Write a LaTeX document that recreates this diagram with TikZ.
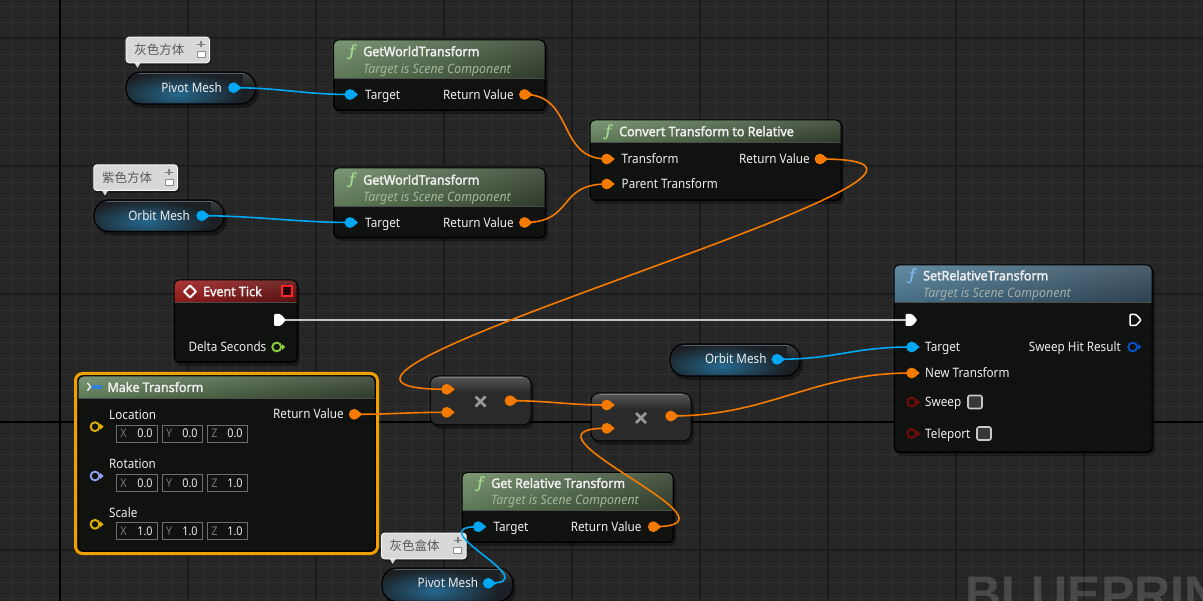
\documentclass[tikz,border=0pt]{standalone}
\usepackage{fontspec}
\setmainfont{Noto Sans}[FakeStretch=0.9]
\newfontfamily\ttlfont{Noto Sans}[FakeStretch=0.96, FakeBold=2.2]
\newfontfamily\subfont{Noto Sans}[FakeStretch=0.95]
\newfontfamily\cjk{Noto Sans CJK SC}
\newfontfamily\wmfont{Liberation Sans}
\usetikzlibrary{calc}
\definecolor{bg}{HTML}{262626}
\definecolor{gridminor}{HTML}{313131}
\definecolor{gridmajor}{HTML}{1B1B1B}
\definecolor{pinorange}{HTML}{F57A00}
\definecolor{pinblue}{HTML}{00A8F4}
\definecolor{execgray}{HTML}{C4C4C4}
\definecolor{bodyfill}{HTML}{101210}
\definecolor{greenL}{HTML}{6A8A62}
\definecolor{greenR}{HTML}{34422F}
\definecolor{blueL}{HTML}{4F7D97}
\definecolor{blueR}{HTML}{33495A}
\definecolor{redL}{HTML}{A01C1C}
\definecolor{redR}{HTML}{5E1212}
\definecolor{subgreen}{HTML}{A6B596}
\definecolor{subblue}{HTML}{9FAEA8}
\definecolor{fgreen}{HTML}{A2D890}
\definecolor{fblue}{HTML}{7CB8E8}
\definecolor{txt}{HTML}{EEEEEE}
\definecolor{selorange}{HTML}{F0A000}
\definecolor{commentfill}{HTML}{D8D8D8}
\definecolor{commenttxt}{HTML}{595959}
\definecolor{pillbase}{HTML}{1C2024}
\definecolor{pilltop}{HTML}{3C4247}
\definecolor{pillglow}{HTML}{25688E}
\definecolor{multfill}{HTML}{2A2A2A}
\definecolor{multx}{HTML}{9A9A9A}
\definecolor{yellowpin}{HTML}{E0B000}
\definecolor{violetpin}{HTML}{8FA0F0}
\definecolor{greenpin}{HTML}{8CD040}
\definecolor{darkredpin}{HTML}{7A0A0A}
\definecolor{darkbluepin}{HTML}{0A50C8}
\definecolor{fieldborder}{HTML}{6E6E6E}
\definecolor{fieldlbl}{HTML}{767676}
\definecolor{checkborder}{HTML}{C8C8C8}
\definecolor{makeblue}{HTML}{2F7FD8}
\tikzset{
  nodebody/.style={fill=bodyfill, fill opacity=0.9, draw=black, line width=1, rounded corners=5, inner sep=0, anchor=north west},
  pillnode/.style={fill=pillbase, inner sep=0, anchor=north west, rounded corners=15},
  multnode/.style={fill=multfill, inner sep=0, anchor=north west, rounded corners=8},
  cmtbox/.style={fill=commentfill, draw=white!92!gray, line width=1, rounded corners=3, inner sep=0, anchor=north west},
  cmttxt/.style={text=commenttxt, inner sep=0, anchor=west, font=\cjk\fontsize{12.5}{13}\selectfont},
  lbl/.style={text=txt, inner sep=0, anchor=west, font=\fontsize{13}{13}\selectfont, text height=9.3pt, text depth=0pt},
  lble/.style={lbl, anchor=east},
  ttl/.style={lbl, font=\ttlfont\fontsize{13}{13}\selectfont},
  subg/.style={lbl, text=subgreen, font=\subfont\itshape\fontsize{13}{13}\selectfont},
  subb/.style={lbl, text=subblue, font=\subfont\itshape\fontsize{13}{13}\selectfont},
  ficon/.style={inner sep=0, font=\fontsize{19}{19}\selectfont\boldmath},
  fieldl/.style={lbl, text=fieldlbl, font=\fontsize{12}{12}\selectfont, text height=8.6pt},
  fieldv/.style={lbl, anchor=east, font=\fontsize{12}{12}\selectfont, text height=8.6pt},
  wireO/.style={draw=pinorange, line width=1.6},
  wireB/.style={draw=pinblue, line width=1.6},
  wireE/.style={draw=execgray, line width=2},
  checkbox/.style={draw=checkborder, fill=black!78, line width=1.6, rounded corners=2},
}
% function node: name, x1, y1, x2, y2, header bottom, left colour, right colour
\newcommand\fnode[8]{%
  \fill[black, opacity=0.35, rounded corners=6] (#2+2,#3+3) rectangle (#4+3,#5+4);
  \node[nodebody, minimum width={(#4-#2)*1pt}, minimum height={(#5-#3)*1pt}] (#1) at (#2,#3) {};
  \begin{scope}
    \clip[rounded corners=5] (#2,#3) rectangle (#4,#5);
    \shade[left color=#7, right color=#8] (#2,#3) rectangle (#4,#6);
    \shade[top color=white, bottom color=black, opacity=0.12] (#2,#3) rectangle (#4,#6);
    \draw[black!70, line width=1] (#2,#6) -- (#4,#6);
  \end{scope}
  \draw[black, line width=1, rounded corners=5] (#2,#3) rectangle (#4,#5);
}
% variable pill: name, x1, y1, x2, y2
\newcommand\pill[5]{%
  \fill[black, opacity=0.4, rounded corners=15] (#2+2,#3+3) rectangle (#4+3,#5+4);
  \node[pillnode, minimum width={(#4-#2)*1pt}, minimum height={(#5-#3)*1pt}] (#1) at (#2,#3) {};
  \begin{scope}
    \clip[rounded corners=15] (#2,#3) rectangle (#4,#5);
    \shade[top color=pilltop, bottom color=pillbase] (#2,#3) rectangle (#4,{(#3+#5)/2});
    \shade[inner color=pillglow, outer color=pillbase] ({#2-(#4-#2)*0.1},{(#3+#5)/2-16}) rectangle ({#4-(#4-#2)*0.1},{#5+12});
  \end{scope}
  \draw[black, line width=1.2, rounded corners=15] (#2,#3) rectangle (#4,#5);
  \draw[white, opacity=0.28, line width=0.8] (#2+12,#3+1.5) -- (#4-12,#3+1.5);
}
% multiply node: name, x1, y1, x2, y2
\newcommand\mult[5]{%
  \fill[black, opacity=0.4, rounded corners=9] (#2+2,#3+3) rectangle (#4+3,#5+4);
  \node[multnode, minimum width={(#4-#2)*1pt}, minimum height={(#5-#3)*1pt}] (#1) at (#2,#3) {};
  \begin{scope}
    \clip[rounded corners=8] (#2,#3) rectangle (#4,#5);
    \shade[top color=white!22!multfill, bottom color=multfill] (#2,#3) rectangle (#4,#3+16);
  \end{scope}
  \draw[black, line width=1, rounded corners=8] (#2,#3) rectangle (#4,#5);
  \draw[white, opacity=0.25, line width=0.8] (#2+9,#3+1.2) -- (#4-9,#3+1.2);
  \begin{scope}[shift={({(#2+#4)/2},{(#3+#5)/2+1})}]
    \draw[multx, line width=2.8] (-5,-5) -- (5,5) (-5,5) -- (5,-5);
  \end{scope}
}
% comment bubble: name, x1, y1, x2, y2, tail x, text
\newcommand\cmt[7]{%
  \fill[black, opacity=0.3, rounded corners=3] (#2+1,#3+2) rectangle (#4+2,#5+3);
  \fill[commentfill] (#6-4,#5-1) -- (#6+4,#5-1) -- (#6,#5+5.5) -- cycle;
  \node[cmtbox, minimum width={(#4-#2)*1pt}, minimum height={(#5-#3)*1pt}] (#1) at (#2,#3) {};
  \node[cmttxt] (#1t) at (#2+8.5,{(#3+#5)/2}) {#7};
  \draw[black!50, line width=0.8] (#4-12,#3+7.5) -- (#4-4,#3+7.5);
  \draw[black!50, line width=1.8] (#4-8,#3+4.5) -- (#4-8,#3+10.5);
  \draw[black!45, fill=white, line width=0.6] (#4-12,#3+15) rectangle (#4-4,#3+21);
}
% field box: name, x1, x2, y, axis, value
\newcommand\field[6]{%
  \draw[fieldborder, line width=1] (#2,#4-8.5) rectangle (#3,#4+8.5);
  \node[fieldl] (#1l) at (#2+3.5,#4) {#5};
  \node[fieldv] (#1v) at (#3-4.5,#4) {#6};
}
\newcommand\dpin[2]{\begin{scope}[shift={(#1)}]\fill[#2] (0,0) circle[radius=5.4];\fill[#2] (4.2,-3.2) -- (8,0) -- (4.2,3.2) -- cycle;\end{scope}}
\newcommand\hpin[2]{\begin{scope}[shift={(#1)}]\draw[#2, line width=1.9] (0,0) circle[radius=4.4];\fill[#2] (5.2,-3) -- (8.6,0) -- (5.2,3) -- cycle;\end{scope}}
\newcommand\xpin[1]{\begin{scope}[shift={(#1)}]\fill[white, rounded corners=1.2] (-5.5,-6) -- (1,-6) -- (6.5,0) -- (1,6) -- (-5.5,6) -- cycle;\end{scope}}
\newcommand\hxpin[1]{\begin{scope}[shift={(#1)}]\draw[white, line width=1.5, rounded corners=1] (-5,-5.5) -- (1,-5.5) -- (6,0) -- (1,5.5) -- (-5,5.5) -- cycle;\end{scope}}
\begin{document}
\begin{tikzpicture}[x=1pt,y=-1pt]
\useasboundingbox (0,0) rectangle (1203,601);
\clip (0,0) rectangle (1203,601);
\fill[bg] (0,0) rectangle (1203,601);
% grid
\foreach \x in {12,28,...,1200} \draw[gridminor, line width=0.9] (\x,0) -- (\x,601);
\foreach \y in {6,22,...,600} \draw[gridminor, line width=0.9] (0,\y) -- (1203,\y);
\foreach \x in {188,316,...,1200} \draw[gridmajor, line width=1.1] (\x,0) -- (\x,601);
\foreach \y in {38,166,294,550} \draw[gridmajor, line width=1.1] (0,\y) -- (1203,\y);
\draw[black, line width=1.6] (60,0) -- (60,601);
\draw[black, line width=1.6] (0,422) -- (1203,422);
% watermark
\node[anchor=base west, inner sep=0, text=white, text opacity=0.16, font=\wmfont\bfseries\fontsize{50}{50}\selectfont] (wm) at (965,611) {BLUEPRINT};

% ---------- nodes ----------
\cmt{c1}{125.7}{36.7}{209}{62.3}{137.5}{灰色方体}
\pill{pv1}{126}{72}{255.5}{104}
\node[lble] (pv1t) at (222,87.7) {Pivot Mesh};

\cmt{c2}{93.3}{164.5}{177}{190}{105}{紫色方体}
\pill{ob1}{94}{200}{224}{231.5}
\node[lble] (ob1t) at (190,215.7) {Orbit Mesh};

\fnode{gwt1}{333.5}{40}{545}{110}{79}{greenL}{greenR}
\node[ficon, text=fgreen] (gwt1f) at (352,52) {$f$};
\node[ttl] (gwt1n) at (363,51.5) {GetWorldTransform};
\node[subg] (gwt1s) at (363,69) {Target is Scene Component};
\node[lbl] (gwt1a) at (365,94.5) {Target};
\node[lble] (gwt1b) at (514,94.5) {Return Value};

\fnode{gwt2}{333.5}{168}{545}{237.5}{207}{greenL}{greenR}
\node[ficon, text=fgreen] (gwt2f) at (352,180.5) {$f$};
\node[ttl] (gwt2n) at (363,180) {GetWorldTransform};
\node[subg] (gwt2s) at (363,197) {Target is Scene Component};
\node[lbl] (gwt2a) at (365,222.5) {Target};
\node[lble] (gwt2b) at (514,222.5) {Return Value};

\fnode{cvn}{590}{120}{841}{200}{142.5}{greenL}{greenR}
\node[ficon, text=fgreen] (cvf) at (608,132) {$f$};
\node[ttl] (cvnn) at (619,131.5) {Convert Transform to Relative};
\node[lbl] (cva) at (621.5,159) {Transform};
\node[lble] (cvb) at (810,159) {Return Value};
\node[lbl] (cvc) at (621.5,184) {Parent Transform};

\fnode{evt}{174}{280}{297}{362}{303}{redL}{redR}
\draw[white, line width=2, line join=round] (190,285.5) -- (196,291.5) -- (190,297.5) -- (184,291.5) -- cycle;
\node[ttl] (evtn) at (203,291.5) {Event Tick};
\draw[red!85!white, line width=1.5, fill=black!85!red] (282,286) rectangle (292,296);
\node[lble] (evtd) at (266.5,347) {Delta Seconds};

\fnode{srt}{894}{265}{1152}{452}{303}{blueL}{blueR}
\node[ficon, text=fblue] (srtf) at (912,276.5) {$f$};
\node[ttl] (srtn) at (923,275.7) {SetRelativeTransform};
\node[subb] (srts) at (923,292.7) {Target is Scene Component};
\node[lbl] (srta) at (925,347) {Target};
\node[lble] (srtb) at (1121,347) {Sweep Hit Result};
\node[lbl] (srtc) at (925,373) {New Transform};
\node[lbl] (srtd) at (925,402) {Sweep};
\node[lbl] (srte) at (925,433.5) {Teleport};
\draw[checkbox] (968,395.5) rectangle (982,408.5);
\draw[checkbox] (977,427) rectangle (991,440);

\pill{ob2}{670}{344}{800}{376}
\node[lble] (ob2t) at (766.7,359.3) {Orbit Mesh};

\fnode{mkt}{78}{376}{375}{551}{398.5}{greenL}{greenR}
\draw[selorange, line width=3, rounded corners=7] (75.5,373.5) rectangle (377.5,553.5);
\draw[white, line width=1.2] (87.5,383) -- (90.5,386.8) -- (87.5,390.6);
\fill[makeblue] (92,385) rectangle (102,389);
\node[ttl] (mktn) at (107.3,387.3) {Make Transform};
\node[lbl] (mkta) at (109,415) {Location};
\node[lble] (mktb) at (344,414.3) {Return Value};
\node[lbl] (mktc) at (109,463.7) {Rotation};
\node[lbl] (mktd) at (109,512.7) {Scale};
\field{fa1}{116.7}{157.3}{433.7}{X}{0.0}
\field{fa2}{162.3}{202.3}{433.7}{Y}{0.0}
\field{fa3}{207.7}{247.3}{433.7}{Z}{0.0}
\field{fb1}{116.7}{157.3}{483}{X}{0.0}
\field{fb2}{162.3}{202.3}{483}{Y}{0.0}
\field{fb3}{207.7}{247.3}{483}{Z}{1.0}
\field{fc1}{116.7}{157.3}{531.3}{X}{1.0}
\field{fc2}{162.3}{202.3}{531.3}{Y}{1.0}
\field{fc3}{207.7}{247.3}{531.3}{Z}{1.0}

\mult{m1}{430}{376}{531}{425}
\mult{m2}{591}{393}{691}{441}

\fnode{grt}{462}{472.5}{673}{542}{511}{greenL}{greenR}
\node[ficon, text=fgreen] (grtf) at (480,484) {$f$};
\node[ttl] (grtn) at (491,483.3) {Get Relative Transform};
\node[subg] (grts) at (491,500) {Target is Scene Component};
\node[lbl] (grta) at (493.3,526.7) {Target};
\node[lble] (grtb) at (641.7,526.7) {Return Value};

\cmt{c3}{381}{532.7}{465.7}{558.3}{392.7}{灰色盒体}
\pill{pv3}{382}{568}{512.7}{601.5}
\node[lble] (pv3t) at (478.3,583.3) {Pivot Mesh};

% ---------- pin positions ----------
\coordinate (ppv1) at (233.5,87.7);
\coordinate (pob1) at (201.7,215.7);
\coordinate (pgwt1t) at (350,94.5);
\coordinate (pgwt1r) at (524.5,94.5);
\coordinate (pgwt2t) at (350,222.5);
\coordinate (pgwt2r) at (524.5,222.5);
\coordinate (pcvt) at (606.7,159);
\coordinate (pcvp) at (606.7,184);
\coordinate (pcvr) at (820,159);
\coordinate (pevx) at (279.5,320);
\coordinate (pevd) at (276.7,347);
\coordinate (psrxi) at (911,320);
\coordinate (psrxo) at (1135,320);
\coordinate (psrt) at (911.7,347);
\coordinate (psrh) at (1132.7,347);
\coordinate (psrn) at (911.7,373);
\coordinate (psrs) at (911.7,402);
\coordinate (psrp) at (911.7,433.5);
\coordinate (pob2) at (777,359.3);
\coordinate (pmkl) at (95,426.7);
\coordinate (pmkr) at (95,476);
\coordinate (pmks) at (95,524.3);
\coordinate (pmko) at (354.3,414.3);
\coordinate (pm1a) at (446.7,389.3);
\coordinate (pm1b) at (446.7,412.3);
\coordinate (pm1o) at (510,400.7);
\coordinate (pm2a) at (606.7,405);
\coordinate (pm2b) at (606.7,428.3);
\coordinate (pm2o) at (670.7,416);
\coordinate (pgrt) at (478.3,526.7);
\coordinate (pgrr) at (653.3,526.7);
\coordinate (ppv3) at (488.3,583.3);

% ---------- wires ----------
\draw[wireE] (pevx) -- (psrxi);
\draw[wireB] (ppv1) .. controls +(45,0) and +(-45,0) .. (pgwt1t);
\draw[wireB] (pob1) .. controls +(50,0) and +(-50,0) .. (pgwt2t);
\draw[wireO] (pgwt1r) .. controls +(50,0) and +(-50,0) .. (pcvt);
\draw[wireO] (pgwt2r) .. controls +(50,0) and +(-50,0) .. (pcvp);
\draw[wireO] (pcvr) .. controls +(255,0) and +(-255,0) .. (pm1a);
\draw[wireO] (pmko) .. controls +(40,0) and +(-40,0) .. (pm1b);
\draw[wireO] (pm1o) .. controls +(40,0) and +(-40,0) .. (pm2a);
\draw[wireO] (pgrr) .. controls +(105,0) and +(-105,0) .. (pm2b);
\draw[wireO] (pm2o) .. controls +(100,0) and +(-100,0) .. (psrn);
\draw[wireB] (pob2) .. controls +(60,0) and +(-60,0) .. (psrt);
\draw[wireB] (ppv3) .. controls +(62,0) and +(-62,0) .. (pgrt);

% ---------- pins ----------
\dpin{ppv1}{pinblue}
\dpin{pob1}{pinblue}
\dpin{pgwt1t}{pinblue}
\dpin{pgwt1r}{pinorange}
\dpin{pgwt2t}{pinblue}
\dpin{pgwt2r}{pinorange}
\dpin{pcvt}{pinorange}
\dpin{pcvp}{pinorange}
\dpin{pcvr}{pinorange}
\xpin{pevx}
\hpin{pevd}{greenpin}
\xpin{psrxi}
\hxpin{psrxo}
\dpin{psrt}{pinblue}
\hpin{psrh}{darkbluepin}
\dpin{psrn}{pinorange}
\hpin{psrs}{darkredpin}
\hpin{psrp}{darkredpin}
\dpin{pob2}{pinblue}
\hpin{pmkl}{yellowpin}
\hpin{pmkr}{violetpin}
\hpin{pmks}{yellowpin}
\dpin{pmko}{pinorange}
\dpin{pm1a}{pinorange}
\dpin{pm1b}{pinorange}
\dpin{pm1o}{pinorange}
\dpin{pm2a}{pinorange}
\dpin{pm2b}{pinorange}
\dpin{pm2o}{pinorange}
\dpin{pgrt}{pinblue}
\dpin{pgrr}{pinorange}
\dpin{ppv3}{pinblue}
\end{tikzpicture}
\end{document}
